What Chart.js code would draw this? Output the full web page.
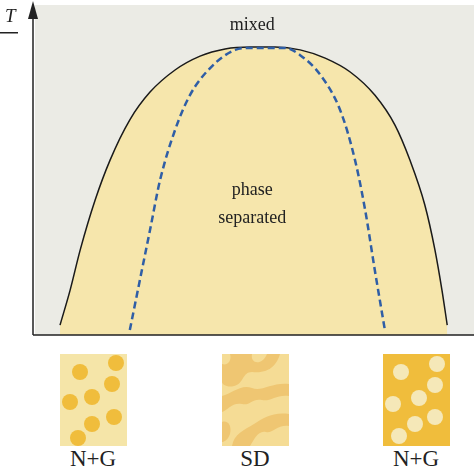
<!DOCTYPE html>
<html><head><meta charset="utf-8">
<script src="https://cdn.jsdelivr.net/npm/chart.js@4"></script>
<style>
body{margin:0;width:474px;height:474px;background:#fff;position:relative;overflow:hidden;font-family:"Liberation Serif",serif}
#wrap{position:absolute;left:0;top:0;width:474px;height:350px}
.box{position:absolute;top:354px;width:67px;height:92px}
.lab{position:absolute;top:446px;width:100px;text-align:center;font-size:23px;color:#222}
</style></head><body>
<div id="wrap"><canvas id="c"></canvas></div>
<svg class="box" style="left:60px" viewBox="0 0 67 92"><rect width="67" height="92" fill="#f5e5a8"/>
<g fill="#f0bd3c"><circle cx="20" cy="18" r="8"/><circle cx="56" cy="9" r="8"/><circle cx="52" cy="30" r="8"/><circle cx="32" cy="43" r="8"/><circle cx="10" cy="48" r="8"/><circle cx="54" cy="63" r="8"/><circle cx="32" cy="70" r="8"/><circle cx="18" cy="84" r="8"/></g></svg>
<svg class="box" style="left:222px" viewBox="0 0 67 92"><rect width="67" height="92" fill="#f5dc95"/>
<g fill="#efc672"><path d="M8 0 L30 0 C28 10 40 12 45 0 L58 0 C55 10 48 20 30 18 C20 18 22 30 12 32 C5 34 0 30 0 28 L0 10 C6 12 10 6 8 0Z"/><path d="M0 42 C10 40 18 30 30 34 C40 38 50 28 67 30 L67 42 C55 40 48 48 40 46 C30 44 28 52 20 50 C10 48 6 56 0 58Z"/><path d="M10 92 C12 80 22 76 32 70 C42 64 50 58 67 60 L67 72 C56 70 50 80 44 78 C36 76 32 86 28 92Z"/><path d="M0 68 C6 66 10 72 8 80 C6 86 2 88 0 88Z"/></g></svg>
<svg class="box" style="left:383px" viewBox="0 0 67 92"><rect width="67" height="92" fill="#f0bd3c"/>
<g fill="#f5e8b8"><circle cx="18" cy="18" r="8"/><circle cx="54" cy="10" r="8"/><circle cx="52" cy="31" r="8"/><circle cx="36" cy="44" r="8"/><circle cx="10" cy="50" r="8"/><circle cx="52" cy="63" r="8"/><circle cx="32" cy="70" r="8"/><circle cx="16" cy="82" r="8"/></g></svg>
<div class="lab" style="left:43px">N+G</div>
<div class="lab" style="left:205px">SD</div>
<div class="lab" style="left:366px">N+G</div>
<script>
// composition (0-100) and temperature (0-100)
const binodalX = [5.7, 8, 10.3, 13.7, 17.1, 21.6, 26.2, 31.9, 37.6, 43.3, 49, 54.7, 60.4, 66.1, 71.8, 77.4, 82, 85.4, 88.8, 91.1, 92.7, 93.9];
const binodalT = [3, 13.6, 25.8, 40.9, 53, 65.2, 73.6, 80.3, 84.5, 86.7, 87.3, 87.3, 86.4, 83.9, 79.7, 72.7, 63.6, 53, 39.4, 25.8, 13.6, 3];
const spinodalX = [21.6, 23.9, 26.2, 28.5, 31.9, 35.3, 39.9, 45.6, 49, 56.9, 60.4, 65, 69.5, 72.9, 75.2, 77.4, 79.7];
const spinodalT = [1.5, 16.7, 31.8, 47, 62.1, 72.7, 80.9, 86.4, 87, 87, 84.8, 78.8, 68.2, 53, 37.9, 19.7, 1.5];
const labels = [
  { text: "mixed", x: 49.5, t: 94 },
  { text: "phase", x: 49.5, t: 44 },
  { text: "separated", x: 49.5, t: 35.5 },
];

const pts = (xs, ts) => xs.map((x, i) => ({ x, y: ts[i] }));

const decor = {
  id: "decor",
  beforeDraw(chart) {
    const { ctx, chartArea: a } = chart;
    ctx.save();
    ctx.fillStyle = "#ebebe5";
    ctx.fillRect(a.left, a.top, a.right - a.left, a.bottom - a.top);
    ctx.restore();
  },
  afterDraw(chart) {
    const { ctx, chartArea: a, scales } = chart;
    ctx.save();
    ctx.strokeStyle = "#222";
    ctx.lineWidth = 1.5;
    ctx.beginPath();
    ctx.moveTo(a.left - 2, a.bottom);
    ctx.lineTo(a.right, a.bottom);
    ctx.moveTo(a.left - 2, a.bottom);
    ctx.lineTo(a.left - 2, a.top + 8);
    ctx.stroke();
    ctx.fillStyle = "#222";
    ctx.beginPath();
    ctx.moveTo(a.left - 2, a.top - 4);
    ctx.lineTo(a.left - 7, a.top + 14);
    ctx.lineTo(a.left + 3, a.top + 14);
    ctx.fill();
    ctx.font = "italic 19px 'Liberation Serif'";
    ctx.fillText("T", 5, 22);
    ctx.fillRect(0, 32, 18, 1.5);
    ctx.font = "18px 'Liberation Serif'";
    ctx.textAlign = "center";
    ctx.textBaseline = "middle";
    labels.forEach((l) => ctx.fillText(l.text, scales.x.getPixelForValue(l.x), scales.y.getPixelForValue(l.t)));
    ctx.restore();
  },
};

new Chart(document.getElementById("c"), {
  type: "line",
  data: {
    datasets: [
      {
        data: pts(spinodalX, spinodalT),
        borderColor: "#2f5ea6",
        borderWidth: 2.5,
        borderDash: [7, 4],
        pointRadius: 0,
        cubicInterpolationMode: "monotone",
        fill: false,
      },
      {
        data: pts(binodalX, binodalT),
        borderColor: "#1a1a1a",
        borderWidth: 1.5,
        backgroundColor: "#f6e6ac",
        pointRadius: 0,
        cubicInterpolationMode: "monotone",
        fill: "origin",
      },
    ],
  },
  options: {
    responsive: true,
    maintainAspectRatio: false,
    animation: false,
    layout: { padding: { left: 35, top: 5, bottom: 15, right: 0 } },
    plugins: { legend: { display: false }, tooltip: { enabled: false } },
    scales: {
      x: { type: "linear", min: 0, max: 100, display: false },
      y: { min: 0, max: 100, display: false },
    },
  },
  plugins: [decor],
});
</script>
</body></html>
